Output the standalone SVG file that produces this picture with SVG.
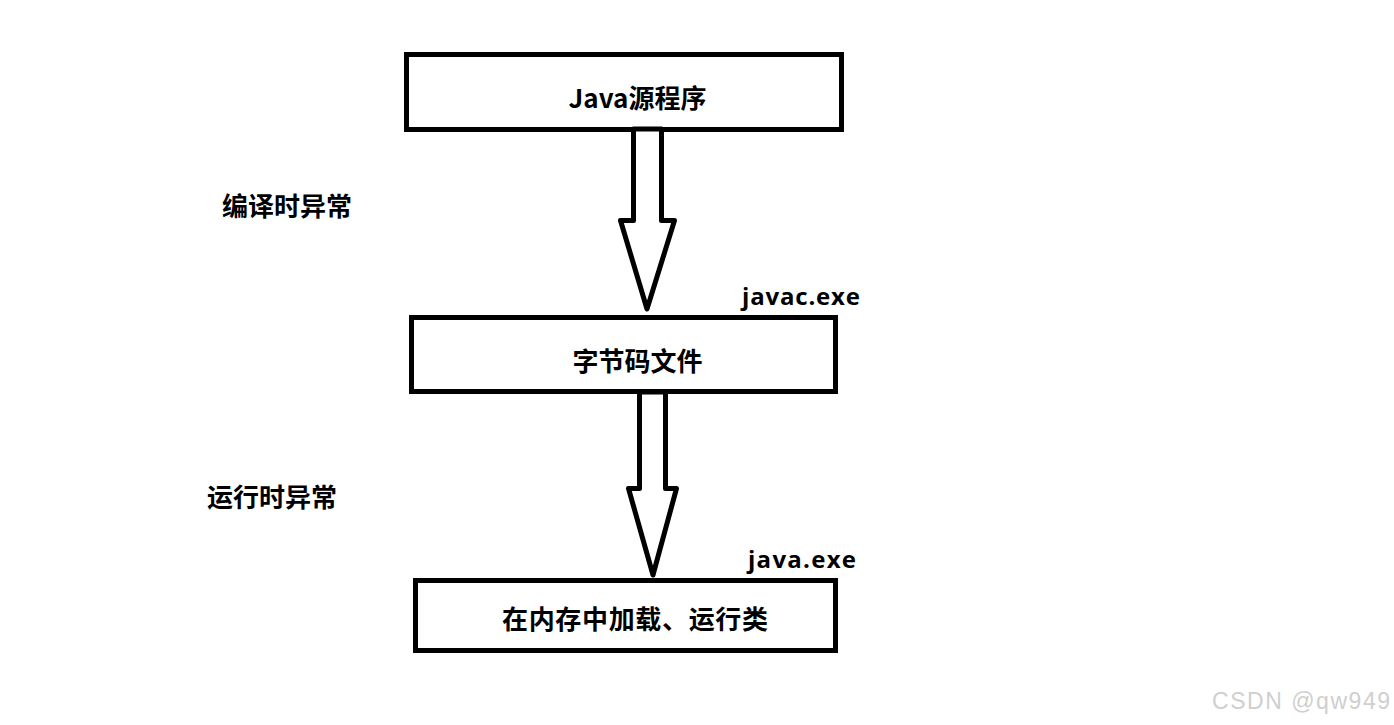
<svg xmlns="http://www.w3.org/2000/svg" width="1394" height="725" viewBox="0 0 1394 725">
  <style>
    .box { fill: #ffffff; stroke: #000000; stroke-width: 5; }
    .arrow { fill: #ffffff; stroke: #000000; stroke-width: 5; stroke-linejoin: round; }
    .t { font-family: "Noto Sans CJK SC", "Noto Sans", sans-serif; font-weight: 700; fill: #000000; }
    .node { font-size: 26px; text-anchor: middle; }
    .side { font-size: 26px; }
    .tool { font-family: "Open Sans", "Noto Sans", sans-serif; font-weight: 700; font-size: 24px; fill: #000000; }
    .wm { font-family: "Liberation Sans", Arial, sans-serif; font-size: 23px; fill: #cfcfcf; }
  </style>
  <rect width="1394" height="725" fill="#ffffff"/>
  <g id="node-source">
    <rect class="box" x="406.5" y="54.5" width="435" height="75"/>
    <text class="t node" x="637.5" y="108">Java源程序</text>
  </g>
  <g id="node-bytecode">
    <rect class="box" x="411.5" y="317.5" width="424" height="74"/>
    <text class="t node" x="637.5" y="371">字节码文件</text>
  </g>
  <g id="node-run">
    <rect class="box" x="415.5" y="580.5" width="420" height="70"/>
    <text class="t node" x="635" y="629" textLength="266" lengthAdjust="spacing">在内存中加载、运行类</text>
  </g>
  <g id="connectors">
    <polygon class="arrow" points="633.5,129 661.5,129 661.5,220.5 674.5,220.5 647,309 620.5,220.5 633.5,220.5"/>
    <polygon class="arrow" points="639.5,392 665.5,392 665.5,488.5 676.5,488.5 653,575 628.5,488.5 639.5,488.5"/>
  </g>
  <g id="labels">
    <text class="tool" x="742" y="305" textLength="118" lengthAdjust="spacing">javac.exe</text>
    <text class="tool" x="748" y="568" textLength="108" lengthAdjust="spacing">java.exe</text>
    <text class="t side" x="222" y="216">编译时异常</text>
    <text class="t side" x="207" y="507">运行时异常</text>
  </g>
  <text class="wm" x="1212" y="709" textLength="178" lengthAdjust="spacing">CSDN @qw949</text>
</svg>
